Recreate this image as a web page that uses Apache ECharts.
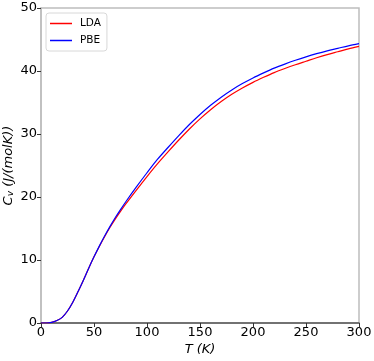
<!DOCTYPE html>
<html><head><meta charset="utf-8">
<script src="https://cdn.jsdelivr.net/npm/echarts@6/dist/echarts.min.js"></script>
<style>html,body{margin:0;padding:0;background:#fff}#c{width:374px;height:361px}</style>
</head><body><div id="c"></div>
<script>
const temps = [0,5,10,15,20,25,30,35,40,45,50,55,60,65,70,75,80,90,100,110,120,130,140,150,160,170,180,190,200,210,220,230,240,250,260,270,280,290,300];
const ldaCv = [0,0,0.1,0.4,0.9,1.9,3.3,5.0,6.8,8.7,10.5,12.15,13.7,15.15,16.5,17.73,18.9,21.1,23.25,25.3,27.2,29.05,30.8,32.4,33.85,35.15,36.3,37.3,38.2,39.0,39.75,40.4,41.0,41.55,42.1,42.6,43.05,43.5,43.9];
const pbeCv = [0,0,0.1,0.4,0.9,1.9,3.3,5.0,6.8,8.7,10.5,12.2,13.8,15.3,16.7,18.0,19.25,21.6,23.85,26.0,27.9,29.75,31.5,33.1,34.55,35.85,37.0,38.0,38.9,39.7,40.45,41.1,41.7,42.25,42.75,43.2,43.6,44.0,44.35];
const xTicks = [0,50,100,150,200,250,300];
const yTicks = [0,10,20,30,40,50];

const chart = echarts.init(document.getElementById('c'), null, {renderer:'canvas'});
const font = 'DejaVu Sans';
chart.setOption({
  animation:false,
  textStyle:{fontFamily:font},
  grid:{left:41,right:15,top:8,bottom:38,containLabel:false,outerBoundsMode:'none',show:true,borderColor:'#bdbdbd',borderWidth:1.5},
  legend:{
    left:46, top:13, orient:'vertical', itemGap:6, itemWidth:22, itemHeight:1.5,
    padding:[5,6,5,4], borderColor:'#d8d8d8', borderWidth:1, borderRadius:3,
    textStyle:{fontFamily:font,fontSize:10.5,color:'#000',padding:[0,0,0,3]},
    data:[{name:'LDA',icon:'rect'},{name:'PBE',icon:'rect'}]
  },
  xAxis:{
    type:'value', min:xTicks[0], max:xTicks[xTicks.length-1], interval:50,
    name:'T (K)', nameLocation:'middle', nameGap:20, nameMoveOverlap:false,
    nameTextStyle:{fontFamily:font,fontSize:13,fontStyle:'italic',color:'#000'},
    axisLine:{show:true,lineStyle:{color:'#555',width:1.5}},
    axisTick:{show:true,length:4,lineStyle:{color:'#333'}},
    axisLabel:{fontFamily:font,fontSize:13,color:'#000',margin:3},
    splitLine:{show:false}
  },
  yAxis:{
    type:'value', min:yTicks[0], max:yTicks[yTicks.length-1], interval:10,
    name:'{i|C}{s|v}{i| (J/(molK))}', nameLocation:'middle', nameGap:26, nameRotate:90, nameMoveOverlap:false,
    nameTextStyle:{fontFamily:font,fontSize:13,color:'#000',
      rich:{i:{fontFamily:font,fontSize:13,fontStyle:'italic',color:'#000'},
            s:{fontFamily:font,fontSize:9,fontStyle:'italic',color:'#000',verticalAlign:'bottom'}}},
    axisLine:{show:true,lineStyle:{color:'#bdbdbd',width:1.5}},
    axisTick:{show:true,length:4,lineStyle:{color:'#333'}},
    axisLabel:{fontFamily:font,fontSize:13,color:'#000',margin:4},
    splitLine:{show:false}
  },
  series:[
    {name:'LDA',type:'line',smooth:0.3,showSymbol:false,color:'#ff0000',lineStyle:{width:1.2,color:'#ff0000'},data:temps.map((t,i)=>[t,ldaCv[i]])},
    {name:'PBE',type:'line',smooth:0.3,showSymbol:false,color:'#0000ff',lineStyle:{width:1.2,color:'#0000ff'},data:temps.map((t,i)=>[t,pbeCv[i]])}
  ]
});
</script></body></html>
